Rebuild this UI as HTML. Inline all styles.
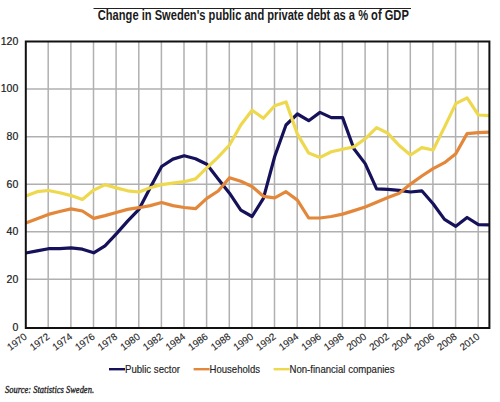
<!DOCTYPE html>
<html><head><meta charset="utf-8"><style>
html,body{margin:0;padding:0;background:#fff;}
body{width:500px;height:402px;overflow:hidden;position:relative;}
svg{position:absolute;left:0;top:0;}
text{font-family:"Liberation Sans",sans-serif;}
</style></head><body>
<svg width="500" height="402" viewBox="0 0 500 402">
<rect width="500" height="402" fill="#fff"/>
<line x1="93.5" y1="8.5" x2="411" y2="8.5" stroke="#222" stroke-width="1"/>
<text x="97.8" y="20.4" font-size="14.5" font-weight="bold" fill="#1a1a1a" textLength="311" lengthAdjust="spacingAndGlyphs">Change in Sweden's public and private debt as a % of GDP</text>
<g stroke="#b0b0b0" stroke-width="1.5">
<line x1="48.2" y1="41.5" x2="48.2" y2="327.6"/>
<line x1="70.9" y1="41.5" x2="70.9" y2="327.6"/>
<line x1="93.5" y1="41.5" x2="93.5" y2="327.6"/>
<line x1="116.1" y1="41.5" x2="116.1" y2="327.6"/>
<line x1="138.8" y1="41.5" x2="138.8" y2="327.6"/>
<line x1="161.4" y1="41.5" x2="161.4" y2="327.6"/>
<line x1="184.0" y1="41.5" x2="184.0" y2="327.6"/>
<line x1="206.6" y1="41.5" x2="206.6" y2="327.6"/>
<line x1="229.3" y1="41.5" x2="229.3" y2="327.6"/>
<line x1="251.9" y1="41.5" x2="251.9" y2="327.6"/>
<line x1="274.5" y1="41.5" x2="274.5" y2="327.6"/>
<line x1="297.2" y1="41.5" x2="297.2" y2="327.6"/>
<line x1="319.8" y1="41.5" x2="319.8" y2="327.6"/>
<line x1="342.4" y1="41.5" x2="342.4" y2="327.6"/>
<line x1="365.1" y1="41.5" x2="365.1" y2="327.6"/>
<line x1="387.7" y1="41.5" x2="387.7" y2="327.6"/>
<line x1="410.3" y1="41.5" x2="410.3" y2="327.6"/>
<line x1="432.9" y1="41.5" x2="432.9" y2="327.6"/>
<line x1="455.6" y1="41.5" x2="455.6" y2="327.6"/>
<line x1="478.2" y1="41.5" x2="478.2" y2="327.6"/>
<line x1="25.8" y1="279.3" x2="489.7" y2="279.3"/>
<line x1="25.8" y1="231.8" x2="489.7" y2="231.8"/>
<line x1="25.8" y1="184.2" x2="489.7" y2="184.2"/>
<line x1="25.8" y1="136.7" x2="489.7" y2="136.7"/>
<line x1="25.8" y1="89.1" x2="489.7" y2="89.1"/>
</g>
<g fill="#1a1a1a" stroke="#1a1a1a" stroke-width="0.2" font-size="10.5">
<text x="18.3" y="330.7" text-anchor="end">0</text>
<text x="18.3" y="283.0" text-anchor="end">20</text>
<text x="18.3" y="235.4" text-anchor="end">40</text>
<text x="18.3" y="187.7" text-anchor="end">60</text>
<text x="18.3" y="140.0" text-anchor="end">80</text>
<text x="18.3" y="92.3" text-anchor="end">100</text>
<text x="18.3" y="44.7" text-anchor="end">120</text>
</g>
<g fill="#262626" stroke="#262626" stroke-width="0.12" font-size="9.8">
<text transform="translate(23.2,332.0) rotate(-37)" text-anchor="end" x="0" y="7.5">1970</text>
<text transform="translate(45.8,332.0) rotate(-37)" text-anchor="end" x="0" y="7.5">1972</text>
<text transform="translate(68.5,332.0) rotate(-37)" text-anchor="end" x="0" y="7.5">1974</text>
<text transform="translate(91.1,332.0) rotate(-37)" text-anchor="end" x="0" y="7.5">1976</text>
<text transform="translate(113.7,332.0) rotate(-37)" text-anchor="end" x="0" y="7.5">1978</text>
<text transform="translate(136.3,332.0) rotate(-37)" text-anchor="end" x="0" y="7.5">1980</text>
<text transform="translate(159.0,332.0) rotate(-37)" text-anchor="end" x="0" y="7.5">1982</text>
<text transform="translate(181.6,332.0) rotate(-37)" text-anchor="end" x="0" y="7.5">1984</text>
<text transform="translate(204.2,332.0) rotate(-37)" text-anchor="end" x="0" y="7.5">1986</text>
<text transform="translate(226.9,332.0) rotate(-37)" text-anchor="end" x="0" y="7.5">1988</text>
<text transform="translate(249.5,332.0) rotate(-37)" text-anchor="end" x="0" y="7.5">1990</text>
<text transform="translate(272.1,332.0) rotate(-37)" text-anchor="end" x="0" y="7.5">1992</text>
<text transform="translate(294.8,332.0) rotate(-37)" text-anchor="end" x="0" y="7.5">1994</text>
<text transform="translate(317.4,332.0) rotate(-37)" text-anchor="end" x="0" y="7.5">1996</text>
<text transform="translate(340.0,332.0) rotate(-37)" text-anchor="end" x="0" y="7.5">1998</text>
<text transform="translate(362.6,332.0) rotate(-37)" text-anchor="end" x="0" y="7.5">2000</text>
<text transform="translate(385.3,332.0) rotate(-37)" text-anchor="end" x="0" y="7.5">2002</text>
<text transform="translate(407.9,332.0) rotate(-37)" text-anchor="end" x="0" y="7.5">2004</text>
<text transform="translate(430.5,332.0) rotate(-37)" text-anchor="end" x="0" y="7.5">2006</text>
<text transform="translate(453.2,332.0) rotate(-37)" text-anchor="end" x="0" y="7.5">2008</text>
<text transform="translate(475.8,332.0) rotate(-37)" text-anchor="end" x="0" y="7.5">2010</text>
</g>
<g fill="none" stroke-linejoin="round" stroke-width="3.2">
<polyline stroke="#15115a" points="25.8,253.0 37.1,250.9 48.4,248.7 59.7,248.7 71.1,247.8 82.4,249.2 93.7,252.8 105.0,245.8 116.3,233.9 127.6,221.1 138.9,209.4 150.3,187.5 161.6,166.5 172.9,159.1 184.2,155.7 195.5,158.8 206.8,164.3 218.2,179.1 229.5,193.2 240.8,210.1 252.1,216.5 263.4,198.4 274.7,156.5 286.0,125.0 297.4,114.0 308.7,120.7 320.0,112.4 331.3,117.6 342.6,117.6 353.9,148.8 365.2,163.6 376.6,188.9 387.9,189.4 399.2,190.3 410.5,192.0 421.8,190.8 433.1,203.7 444.5,219.4 455.8,226.3 467.1,217.5 478.4,224.6 489.7,224.9"/>
<polyline stroke="#e3873a" points="25.8,223.0 37.1,218.7 48.4,214.4 59.7,211.5 71.1,208.9 82.4,211.0 93.7,218.4 105.0,215.6 116.3,212.5 127.6,209.4 138.9,207.7 150.3,205.6 161.6,202.5 172.9,205.6 184.2,207.5 195.5,208.7 206.8,198.4 218.2,191.0 229.5,177.7 240.8,181.3 252.1,186.5 263.4,196.3 274.7,197.9 286.0,191.7 297.4,200.1 308.7,218.0 320.0,218.0 331.3,216.5 342.6,214.1 353.9,210.6 365.2,207.0 376.6,202.2 387.9,197.5 399.2,193.2 410.5,184.1 421.8,176.0 433.1,168.6 444.5,162.7 455.8,153.8 467.1,133.6 478.4,132.6 489.7,132.2"/>
<polyline stroke="#eed84e" points="25.8,196.0 37.1,191.7 48.4,190.5 59.7,192.7 71.1,195.6 82.4,199.4 93.7,190.1 105.0,184.8 116.3,187.9 127.6,190.8 138.9,192.0 150.3,187.7 161.6,184.6 172.9,183.2 184.2,181.7 195.5,178.9 206.8,167.9 218.2,157.2 229.5,145.0 240.8,125.0 252.1,110.2 263.4,118.3 274.7,105.7 286.0,101.9 297.4,134.1 308.7,153.1 320.0,157.4 331.3,151.7 342.6,149.3 353.9,146.9 365.2,138.8 376.6,127.6 387.9,133.3 399.2,145.5 410.5,155.0 421.8,147.6 433.1,150.0 444.5,127.1 455.8,103.6 467.1,97.8 478.4,115.0 489.7,115.7"/>
</g>
<path d="M25.8,41.5 H489.4 V327.9 H25.8 Z" fill="none" stroke="#111" stroke-width="2"/>
<g stroke-width="2.4">
<line x1="109" y1="369.2" x2="125" y2="369.2" stroke="#15115a"/>
<line x1="193.6" y1="369.2" x2="209.6" y2="369.2" stroke="#e3873a"/>
<line x1="273.6" y1="369.2" x2="289.5" y2="369.2" stroke="#eed84e"/>
</g>
<g fill="#222" stroke="#222" stroke-width="0.15" font-size="10.5">
<text x="125" y="373.3" textLength="55" lengthAdjust="spacingAndGlyphs">Public sector</text>
<text x="209.6" y="373.3" textLength="50.4" lengthAdjust="spacingAndGlyphs">Households</text>
<text x="289.5" y="373.3" textLength="105" lengthAdjust="spacingAndGlyphs">Non-financial companies</text>
</g>
<text x="5" y="392.5" style="font-family:'Liberation Serif',serif;font-style:italic" font-size="10" fill="#1a1a1a" stroke="#1a1a1a" stroke-width="0.3" textLength="89" lengthAdjust="spacingAndGlyphs">Source: Statistics Sweden.</text>
</svg>
</body></html>
